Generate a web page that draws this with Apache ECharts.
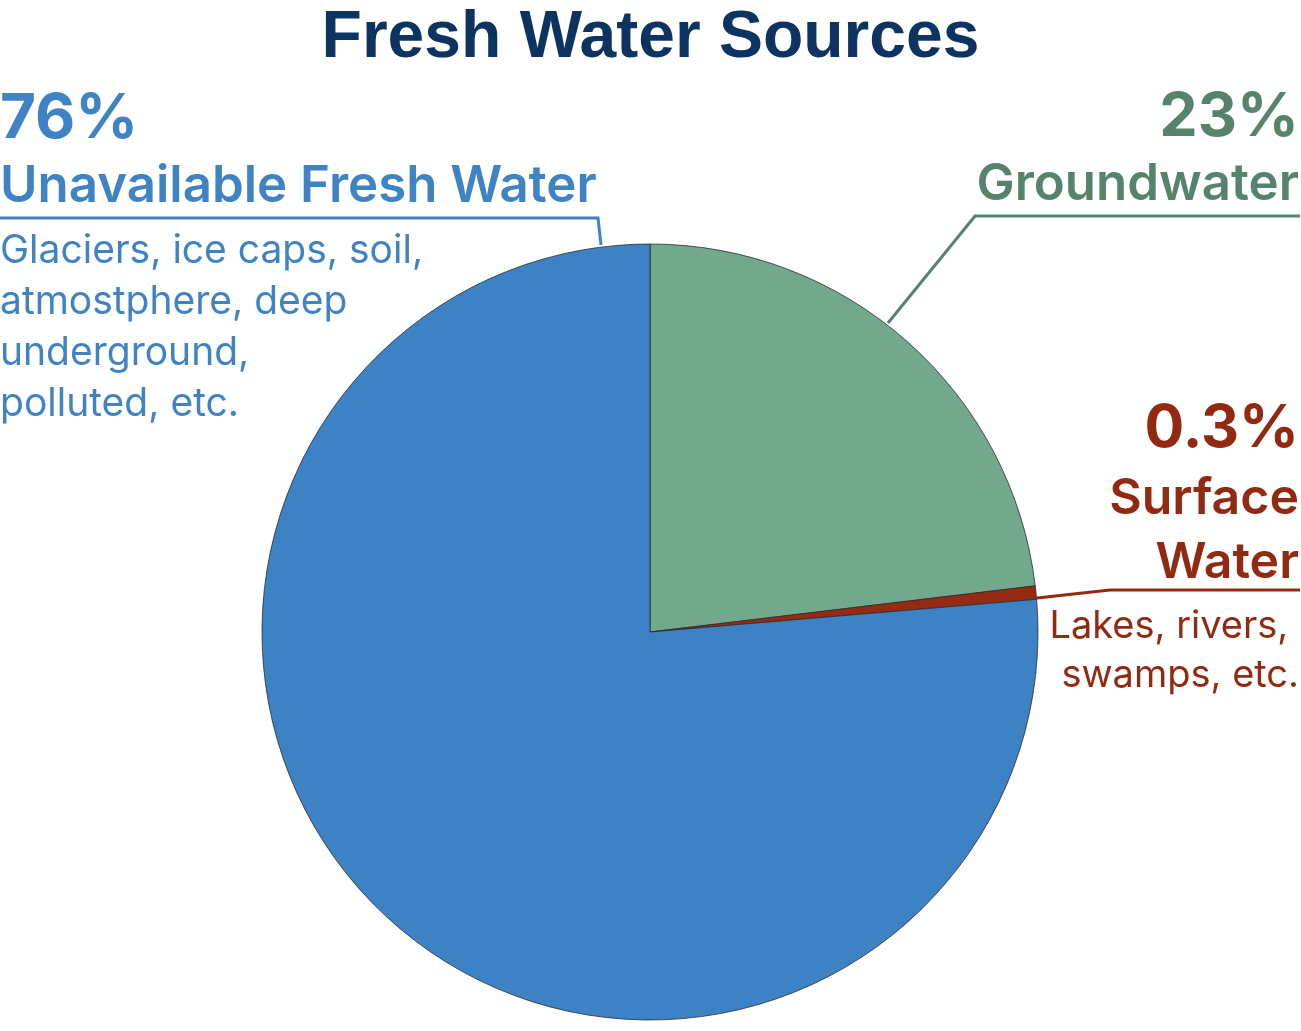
<!DOCTYPE html>
<html><head><meta charset="utf-8">
<script src="https://cdn.jsdelivr.net/npm/echarts@6/dist/echarts.min.js"></script>
<style>html,body{margin:0;padding:0;background:#fff}#c{width:1301px;height:1031px}</style>
</head><body><div id="c"></div>
<script>
const titleText = 'Fresh Water Sources';
const categories = ['Groundwater', 'Surface Water', 'Unavailable Fresh Water'];
const values = [23, 0.3, 76];
const pctLabels = ['23%', '0.3%', '76%'];
const descriptions = ['', 'Lakes, rivers, \nswamps, etc.', 'Glaciers, ice caps, soil,\natmostphere, deep\nunderground,\npolluted, etc.'];
const sliceColors = ['#72a88c', '#962b14', '#3d82c4'];
const textColors = ['#56836c', '#922a12', '#3f83c4'];

const FONT = 'Inter, Roboto, sans-serif';
const chart = echarts.init(document.getElementById('c'));

function richFor(i) {
  const c = textColors[i];
  if (i === 0) return {
    p: {fontFamily: FONT, fontWeight: 'bold', fontSize: 61, lineHeight: 60, color: c},
    n: {fontFamily: FONT, fontWeight: 600, fontSize: 51, lineHeight: 74, color: c}
  };
  if (i === 1) return {
    p: {fontFamily: FONT, fontWeight: 'bold', fontSize: 59, lineHeight: 90, color: c},
    n: {fontFamily: FONT, fontWeight: 600, fontSize: 50, lineHeight: 49, color: c},
    n2: {fontFamily: FONT, fontWeight: 600, fontSize: 50, lineHeight: 79, color: c},
    d: {fontFamily: FONT, fontWeight: 'normal', fontSize: 38, lineHeight: 49, color: c}
  };
  return {
    p: {fontFamily: FONT, fontWeight: 'bold', fontSize: 62, lineHeight: 58, color: c},
    n: {fontFamily: FONT, fontWeight: 600, fontSize: 51, lineHeight: 78, color: c},
    d: {fontFamily: FONT, fontWeight: 'normal', fontSize: 39, lineHeight: 51, color: c}
  };
}
function fmt(i) {
  if (i === 0) return '{p|' + pctLabels[0] + '}\n{n|' + categories[0] + '}';
  if (i === 1) {
    const d = descriptions[1].split('\n').map(s => '{d|' + s + '}').join('\n');
    return '{p|' + pctLabels[1] + '}\n{n|Surface}\n{n2|Water}\n' + d;
  }
  const d = descriptions[2].split('\n').map(s => '{d|' + s + '}').join('\n');
  return '{p|' + pctLabels[2] + '}\n{n|' + categories[2] + '}\n' + d;
}

// label placement (layout only)
const labelPos = [
  {x: 1299, y: 88, align: 'right', line: [[888, 323], [975, 216], [1300, 216]]},
  {x: 1299, y: 384, align: 'right', line: [[1037, 598], [1110, 590], [1300, 590]]},
  {x: 0, y: 90, align: 'left', line: [[601, 245], [598, 218], [0, 218]]}
];

const data = categories.map((name, i) => ({
  name, value: values[i],
  itemStyle: {color: sliceColors[i]},
  label: {formatter: fmt(i), rich: richFor(i), align: labelPos[i].align},
  labelLine: {lineStyle: {color: textColors[i], width: 3}}
}));

chart.setOption({
  animation: false,
  title: {
    text: titleText, left: 'center', top: 1,
    textStyle: {fontFamily: 'Liberation Sans, Arial, sans-serif', fontWeight: 'bold', fontSize: 66, color: '#0d3461'}
  },
  series: [{
    type: 'pie',
    center: [650, 632],
    radius: 388,
    startAngle: 90,
    clockwise: true,
    minAngle: 2,
    avoidLabelOverlap: false,
    itemStyle: {borderColor: '#2b2b2b', borderWidth: 0.8},
    label: {show: true, position: 'outside'},
    labelLine: {show: true, smooth: false, lineStyle: {width: 3}},
    emphasis: {disabled: true},
    labelLayout: function (params) {
      const p = labelPos[params.dataIndex];
      return {x: p.x, y: p.y, align: p.align, verticalAlign: 'top', labelLinePoints: p.line, hideOverlap: false};
    },
    data
  }]
});
</script></body></html>
